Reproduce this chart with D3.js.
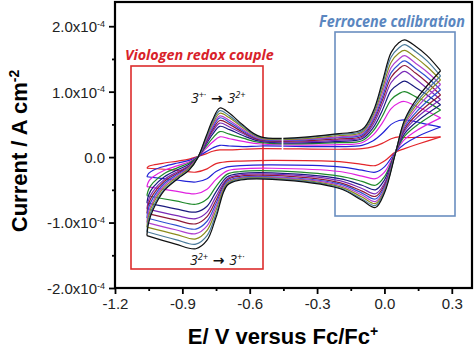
<!DOCTYPE html>
<html><head><meta charset="utf-8">
<script src="https://cdn.jsdelivr.net/npm/d3@7"></script>
<style>body{margin:0;background:#fff}svg{display:block}</style>
</head><body>
<svg id="c" width="474" height="350"></svg>
<script>
// ---- data (current in units of 1e-4 A cm^-2, potential in V vs Fc/Fc+) ----
const colors = ["#e3262b","#2222d6","#e022e0","#1f8a2a","#1a1a7e","#7a2ab8","#8e1838","#3050d0","#b040d0","#8c8c1c","#4a7a9a","#111111"];
// cathodic sweep potentials (0.25 V -> -1.058 V)
const cathE = [0.25, 0.15, 0.09, 0.05, 0.0, -0.04, -0.1, -0.2, -0.5, -0.64, -0.7, -0.75, -0.79, -0.84, -0.93, -1.058];
const cath = [
 [0.31,0.20,0.13,0.08,-0.06,-0.13,-0.11,-0.07,-0.05,-0.06,-0.07,-0.10,-0.18,-0.23,-0.20,-0.17],
 [0.46,0.32,0.20,0.08,-0.15,-0.23,-0.20,-0.15,-0.12,-0.13,-0.15,-0.22,-0.33,-0.38,-0.35,-0.30],
 [0.60,0.42,0.27,0.08,-0.23,-0.33,-0.29,-0.22,-0.17,-0.18,-0.21,-0.34,-0.49,-0.56,-0.52,-0.45],
 [0.72,0.50,0.32,0.08,-0.30,-0.43,-0.37,-0.29,-0.21,-0.22,-0.26,-0.45,-0.64,-0.72,-0.67,-0.59],
 [0.80,0.56,0.36,0.08,-0.35,-0.50,-0.43,-0.33,-0.24,-0.25,-0.30,-0.53,-0.75,-0.84,-0.79,-0.70],
 [0.88,0.62,0.40,0.08,-0.40,-0.56,-0.48,-0.36,-0.26,-0.27,-0.33,-0.60,-0.84,-0.94,-0.89,-0.79],
 [0.95,0.67,0.43,0.08,-0.43,-0.60,-0.52,-0.39,-0.28,-0.29,-0.35,-0.66,-0.91,-1.02,-0.96,-0.86],
 [1.03,0.72,0.46,0.08,-0.46,-0.64,-0.55,-0.41,-0.30,-0.31,-0.37,-0.71,-0.98,-1.10,-1.04,-0.93],
 [1.11,0.78,0.49,0.08,-0.49,-0.68,-0.58,-0.43,-0.31,-0.32,-0.39,-0.76,-1.05,-1.17,-1.11,-1.00],
 [1.18,0.83,0.52,0.08,-0.51,-0.71,-0.61,-0.45,-0.32,-0.33,-0.40,-0.81,-1.12,-1.25,-1.18,-1.07],
 [1.24,0.87,0.55,0.08,-0.53,-0.74,-0.64,-0.47,-0.33,-0.34,-0.42,-0.87,-1.20,-1.33,-1.26,-1.14],
 [1.32,0.92,0.57,0.07,-0.55,-0.77,-0.66,-0.48,-0.34,-0.35,-0.43,-0.92,-1.27,-1.40,-1.33,-1.20]
];
// anodic sweep potentials (-1.058 V -> 0.25 V)
const anodE = [-1.058, -1.05, -1.03, -0.98, -0.92, -0.87, -0.83, -0.795, -0.765, -0.733, -0.69, -0.63, -0.55, -0.2, -0.1, -0.05, -0.01, 0.03, 0.065, 0.089, 0.14, 0.19, 0.25];
const anod = [
 [-0.17,-0.14,-0.12,-0.09,-0.06,-0.03,0.01,0.05,0.09,0.11,0.11,0.12,0.13,0.12,0.13,0.16,0.21,0.28,0.31,0.30,0.30,0.30,0.31],
 [-0.30,-0.25,-0.20,-0.14,-0.09,-0.05,0.01,0.08,0.14,0.18,0.17,0.16,0.17,0.16,0.18,0.25,0.36,0.50,0.56,0.57,0.54,0.50,0.46],
 [-0.45,-0.37,-0.30,-0.20,-0.13,-0.07,0.01,0.13,0.23,0.31,0.28,0.24,0.20,0.19,0.22,0.34,0.52,0.74,0.83,0.85,0.78,0.70,0.60],
 [-0.59,-0.49,-0.39,-0.25,-0.16,-0.09,0.01,0.16,0.29,0.39,0.35,0.29,0.22,0.22,0.25,0.40,0.62,0.88,0.97,1.00,0.92,0.84,0.72],
 [-0.70,-0.58,-0.46,-0.30,-0.19,-0.11,0.00,0.19,0.35,0.47,0.42,0.33,0.24,0.24,0.28,0.45,0.71,1.02,1.12,1.16,1.06,0.95,0.80],
 [-0.79,-0.65,-0.52,-0.34,-0.22,-0.13,0.00,0.21,0.39,0.52,0.46,0.36,0.25,0.26,0.30,0.50,0.80,1.14,1.26,1.31,1.19,1.05,0.88],
 [-0.86,-0.71,-0.57,-0.37,-0.24,-0.14,0.00,0.23,0.42,0.56,0.50,0.38,0.26,0.28,0.32,0.54,0.86,1.22,1.35,1.40,1.28,1.14,0.95],
 [-0.93,-0.77,-0.62,-0.40,-0.26,-0.15,0.00,0.25,0.45,0.60,0.53,0.40,0.27,0.30,0.34,0.57,0.91,1.29,1.42,1.47,1.35,1.22,1.03],
 [-1.00,-0.83,-0.67,-0.43,-0.28,-0.16,0.00,0.26,0.48,0.63,0.56,0.42,0.28,0.31,0.36,0.60,0.97,1.37,1.50,1.55,1.43,1.30,1.11],
 [-1.07,-0.89,-0.71,-0.46,-0.30,-0.17,0.00,0.28,0.51,0.67,0.60,0.45,0.29,0.33,0.38,0.64,1.03,1.45,1.59,1.63,1.52,1.38,1.18],
 [-1.14,-0.95,-0.76,-0.49,-0.32,-0.19,0.00,0.29,0.54,0.71,0.63,0.47,0.30,0.35,0.40,0.67,1.09,1.53,1.67,1.72,1.61,1.47,1.24],
 [-1.20,-1.00,-0.80,-0.51,-0.33,-0.20,0.00,0.31,0.57,0.75,0.67,0.49,0.31,0.36,0.42,0.70,1.14,1.60,1.75,1.79,1.69,1.55,1.32]
];
const xTicks = [-1.2, -0.9, -0.6, -0.3, 0.0, 0.3];
const xMinor = [-1.05, -0.75, -0.45, -0.15, 0.15];
const yTicks = [-2, -1, 0, 1, 2];
const yMinor = [-1.5, -0.5, 0.5, 1.5];
const yLabels = ["-2.0x10", "-1.0x10", "0.0", "1.0x10", "2.0x10"];

// ---- layout ----
const svg = d3.select("#c");
const L = 115, R = 472, T = 2, B = 288;
const x = d3.scaleLinear().domain([-1.2, 0.39]).range([L, R]);
const y = d3.scaleLinear().domain([-2.0, 2.37]).range([B, T]);
const font = "'Liberation Sans', Arial, sans-serif";

// boxes
svg.append("rect").attr("x",131).attr("y",66).attr("width",132).attr("height",203)
  .attr("fill","none").attr("stroke","#dc2c2c").attr("stroke-width",1.6);
svg.append("rect").attr("x",335).attr("y",32).attr("width",120).attr("height",184)
  .attr("fill","none").attr("stroke","#6a8ec0").attr("stroke-width",1.6);

// curves
const line = d3.line().x(d => x(d[0])).y(d => y(d[1])).curve(d3.curveCatmullRom.alpha(0.5));
const g = svg.append("g").attr("fill","none").attr("stroke-width",1.2);
cath.forEach((vals, k) => {
  g.append("path").attr("stroke", colors[k]).attr("d", line(cathE.map((e,i)=>[e, vals[i]])));
  g.append("path").attr("stroke", colors[k]).attr("d", line(anodE.map((e,i)=>[e, anod[k][i]])));
});
svg.append("line").attr("x1",282.5).attr("x2",282.5).attr("y1",136).attr("y2",154).attr("stroke","#fff").attr("stroke-width",1.6);

// frame
svg.append("rect").attr("x",L).attr("y",T).attr("width",R-L).attr("height",B-T)
  .attr("fill","none").attr("stroke","#000").attr("stroke-width",2.2);

// axes
const xa = svg.append("g").attr("transform",`translate(0,${B})`)
  .call(d3.axisBottom(x).tickValues(xTicks).tickSize(6).tickPadding(4).tickFormat(d => d.toFixed(1)));
svg.append("g").attr("transform",`translate(0,${B})`)
  .call(d3.axisBottom(x).tickValues(xMinor).tickSize(3).tickFormat(""));
const ya = svg.append("g").attr("transform",`translate(${L},0)`)
  .call(d3.axisLeft(y).tickValues(yTicks).tickSize(6).tickPadding(4).tickFormat(""));
svg.append("g").attr("transform",`translate(${L},0)`)
  .call(d3.axisLeft(y).tickValues(yMinor).tickSize(3).tickFormat(""));
svg.selectAll(".domain").remove();
svg.selectAll(".tick line").attr("stroke","#000").attr("stroke-width",1.8);
xa.selectAll("text").attr("font-family",font).attr("font-size",15).attr("fill","#222");

ya.selectAll(".tick").each(function(d,i){
  const t = d3.select(this).append("text").attr("x",-10).attr("dy","0.36em")
    .attr("text-anchor","end").attr("font-family",font).attr("font-size",15).attr("fill","#222");
  t.append("tspan").text(yLabels[i]);
  if (d !== 0) t.append("tspan").attr("dy","-0.6em").attr("font-size",9).text("-4");
});

// axis titles
const yt = svg.append("text").attr("transform","translate(27,151) rotate(-90)")
  .attr("text-anchor","middle").attr("font-family",font).attr("font-weight","bold").attr("font-size",22);
yt.append("tspan").text("Current / A cm");
yt.append("tspan").attr("dy","-0.55em").attr("font-size",14).text("-2");
const xt = svg.append("text").attr("x",283).attr("y",344)
  .attr("text-anchor","middle").attr("font-family",font).attr("font-weight","bold").attr("font-size",22);
xt.append("tspan").text("E/ V versus Fc/Fc");
xt.append("tspan").attr("dy","-0.55em").attr("font-size",14).text("+");

// box titles (horizontally condensed to the width they have in the figure)
function boxTitle(txt, x0, yb, width, size, color){
  const gt = svg.append("g");
  const t = gt.append("text").attr("x",0).attr("y",0).attr("font-family","'Open Sans', sans-serif")
    .attr("font-style","italic").attr("font-weight","bold").attr("font-size",size).attr("fill",color).text(txt);
  const w = t.node().getComputedTextLength();
  gt.attr("transform",`translate(${x0},${yb}) scale(${width / w},1)`);
}
boxTitle("Viologen redox couple", 125, 59.5, 149, 15, "#d8222a");
boxTitle("Ferrocene calibration", 319, 27, 146, 15.5, "#5a86c0");

// annotations
function annot(xp, yp, parts){
  const t = svg.append("text").attr("x",xp).attr("y",yp).attr("font-family","'Open Sans', sans-serif")
    .attr("font-style","italic").attr("font-size",14).attr("fill","#111");
  parts.forEach(p => {
    if (p.sup) t.append("tspan").attr("dy",-5.5).attr("font-size",9).text(p.s);
    else if (p.arrow) t.append("tspan").attr("dy",5.5).attr("font-family","'DejaVu Sans', sans-serif").attr("font-weight","bold").attr("font-style","normal").text(p.s);
    else t.append("tspan").text(p.s);
  });
}
annot(191, 103, [{s:"3"},{s:"+·",sup:true},{s:" \u2192 ",arrow:true},{s:"3"},{s:"2+",sup:true}]);
annot(190, 265, [{s:"3"},{s:"2+",sup:true},{s:" \u2192 ",arrow:true},{s:"3"},{s:"+·",sup:true}]);
</script>
</body></html>
